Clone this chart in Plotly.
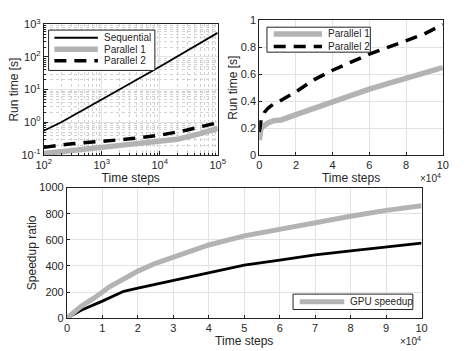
import plotly.graph_objects as go

# ---- data ----
log_steps = [100, 200, 1000, 10000, 100000]
seq_time = [0.55, 1.0, 5.0, 50.0, 550.0]

p1_log_steps = [100, 300, 1000, 3000, 10000, 20000, 50000, 100000]
p1_log_time = [0.11, 0.14, 0.17, 0.21, 0.27, 0.30, 0.45, 0.65]
p2_log_steps = [100, 200, 300, 1000, 3000, 10000, 30000, 100000]
p2_log_time = [0.17, 0.20, 0.22, 0.26, 0.31, 0.40, 0.58, 0.97]

lin_steps1 = [0, 500, 1000, 3000, 5000, 8000, 12000, 20000, 40000, 60000, 70000, 80000, 100000]
p1_lin_time = [0.11, 0.18, 0.20, 0.22, 0.24, 0.255, 0.26, 0.30, 0.40, 0.49, 0.53, 0.57, 0.65]
lin_steps2 = [0, 500, 1000, 3000, 5000, 8000, 10000, 15000, 20000, 30000, 40000, 50000, 60000, 70000, 80000, 90000, 100000]
p2_lin_time = [0.17, 0.22, 0.26, 0.32, 0.35, 0.38, 0.39, 0.43, 0.47, 0.56, 0.63, 0.69, 0.75, 0.80, 0.85, 0.90, 0.97]

sp_steps_gpu = [0, 4000, 8000, 12000, 16000, 20000, 25000, 30000, 35000, 40000, 50000, 60000, 70000, 80000, 90000, 100000]
sp_gpu = [0, 90, 160, 240, 300, 360, 420, 470, 520, 560, 630, 680, 735, 780, 825, 860]
sp_steps_blk = [0, 4000, 10000, 16000, 20000, 30000, 40000, 50000, 60000, 70000, 80000, 90000, 100000]
sp_blk = [0, 60, 130, 205, 230, 290, 350, 405, 445, 485, 515, 545, 575]

log_x_major = [100, 1000, 10000, 100000]
log_x_labels = ["10<sup>2</sup>", "10<sup>3</sup>", "10<sup>4</sup>", "10<sup>5</sup>"]
log_y_major = [0.1, 1, 10, 100, 1000]
log_y_labels = ["10<sup>-1</sup>", "10<sup>0</sup>", "10<sup>1</sup>", "10<sup>2</sup>", "10<sup>3</sup>"]

lin_x_ticks = [0, 20000, 40000, 60000, 80000, 100000]
lin_x_labels = ["0", "2", "4", "6", "8", "10"]
lin_y_ticks = [0, 0.2, 0.4, 0.6, 0.8, 1]
lin_y_labels = ["0", "0.2", "0.4", "0.6", "0.8", "1"]
sp_x_ticks = [i * 10000 for i in range(11)]
sp_x_labels = [str(i) for i in range(11)]
sp_y_ticks = [0, 200, 400, 600, 800, 1000]

legend1_names = ["Sequential", "Parallel 1", "Parallel 2"]
legend2_names = ["Parallel 1", "Parallel 2"]
legend3_names = ["GPU speedup"]


def minor_positions(majors):
    out = []
    for m in majors[:-1]:
        out += [m * k for k in range(2, 10)]
    return out


GRAY = "#b3b3b3"
TXT = "#262626"
FONT = "Liberation Sans, Arial, sans-serif"
DASH = "12px,8px"

STYLE_SEQ = dict(color="black", width=1.8)
STYLE_P1 = dict(color=GRAY, width=5.5)
STYLE_P2 = dict(color="black", width=3.5, dash=DASH)

fig = go.Figure()

# top-left (log-log)
fig.add_trace(go.Scatter(x=log_steps, y=seq_time, mode="lines", name=legend1_names[0],
                         line=STYLE_SEQ, xaxis="x", yaxis="y"))
fig.add_trace(go.Scatter(x=p1_log_steps, y=p1_log_time, mode="lines", name=legend1_names[1],
                         line=STYLE_P1, xaxis="x", yaxis="y"))
fig.add_trace(go.Scatter(x=p2_log_steps, y=p2_log_time, mode="lines", name=legend1_names[2],
                         line=STYLE_P2, xaxis="x", yaxis="y"))

# top-right (linear)
fig.add_trace(go.Scatter(x=lin_steps1, y=p1_lin_time, mode="lines", name=legend2_names[0],
                         line=STYLE_P1, xaxis="x2", yaxis="y2"))
fig.add_trace(go.Scatter(x=lin_steps2, y=p2_lin_time, mode="lines", name=legend2_names[1],
                         line=STYLE_P2, xaxis="x2", yaxis="y2"))

# bottom (speedup)
fig.add_trace(go.Scatter(x=sp_steps_blk, y=sp_blk, mode="lines", name="speedup",
                         line=dict(color="black", width=2.8), xaxis="x3", yaxis="y3"))
fig.add_trace(go.Scatter(x=sp_steps_gpu, y=sp_gpu, mode="lines", name=legend3_names[0],
                         line=dict(color=GRAY, width=5), xaxis="x3", yaxis="y3"))

W, H = 474, 351
def px_x(p): return p / W
def px_y(p): return 1 - p / H

axis_common = dict(showline=True, linecolor="#222222", linewidth=1, mirror=True,
                   ticks="inside", ticklen=3, tickcolor="#222222",
                   showgrid=True, gridcolor="#e3e3e3", gridwidth=1, zeroline=False,
                   tickfont=dict(size=11, color=TXT), title_font=dict(size=12, color=TXT),
                   title_standoff=0)

TL_X = [px_x(37), px_x(217)]
TL_Y = [px_y(153), px_y(17)]

x_all = sorted(log_x_major + minor_positions(log_x_major))
y_all = sorted(log_y_major + minor_positions(log_y_major))

fig.update_layout(
    width=W, height=H, margin=dict(l=0, r=0, t=0, b=0),
    paper_bgcolor="white", plot_bgcolor="white", showlegend=False,
    font=dict(family=FONT, color=TXT),
    xaxis=dict(axis_common, type="log", domain=TL_X, anchor="y", range=[2, 5],
               tickvals=x_all, ticktext=[log_x_labels[log_x_major.index(v)] if v in log_x_major else "" for v in x_all],
               griddash="dot", gridcolor="#d2d2d2", ticklen=2,
               title=dict(text="Time steps")),
    yaxis=dict(axis_common, type="log", domain=TL_Y, anchor="x", range=[-1, 3],
               tickvals=y_all, ticktext=[log_y_labels[log_y_major.index(v)] if v in log_y_major else "" for v in y_all],
               griddash="dot", gridcolor="#d2d2d2", ticklen=2,
               title=dict(text="Run time [s]")),
    xaxis4=dict(type="log", domain=TL_X, anchor="y", overlaying="x", range=[2, 5],
                tickvals=log_x_major, showticklabels=False, ticks="inside", ticklen=4, tickcolor="#222222",
                showgrid=True, gridcolor="#e3e3e3", zeroline=False, showline=False),
    yaxis4=dict(type="log", domain=TL_Y, anchor="x", overlaying="y", range=[-1, 3],
                tickvals=log_y_major, showticklabels=False, ticks="inside", ticklen=4, tickcolor="#222222",
                showgrid=True, gridcolor="#e3e3e3", zeroline=False, showline=False),
    xaxis2=dict(axis_common, domain=[px_x(260), px_x(450)], anchor="y2",
                range=[0, 100000], tickvals=lin_x_ticks, ticktext=lin_x_labels,
                title=dict(text="Time steps")),
    yaxis2=dict(axis_common, domain=[px_y(153), px_y(13)], anchor="x2",
                range=[0, 1], tickvals=lin_y_ticks, ticktext=lin_y_labels,
                title=dict(text="Run time [s]")),
    xaxis3=dict(axis_common, domain=[px_x(61), px_x(428)], anchor="y3",
                range=[0, 100000], tickvals=sp_x_ticks, ticktext=sp_x_labels,
                title=dict(text="Time steps")),
    yaxis3=dict(axis_common, domain=[px_y(323), px_y(187)], anchor="x3",
                range=[0, 1000], tickvals=sp_y_ticks,
                title=dict(text="Speedup ratio")),
)

# empty trace so the overlay axes render
fig.add_trace(go.Scatter(x=[None], y=[None], xaxis="x4", yaxis="y4", showlegend=False, hoverinfo="skip"))

# ---- manual legends (pixel layout) ----
def add_legend(box, rows, names, styles):
    x0, y0, x1, y1 = box
    fig.add_shape(type="rect", xref="paper", yref="paper",
                  x0=px_x(x0), x1=px_x(x1), y0=px_y(y1), y1=px_y(y0),
                  line=dict(color="#222222", width=1), fillcolor="white", layer="above")
    for (sx0, sx1, tx, ry), name, st in zip(rows, names, styles):
        fig.add_shape(type="line", xref="paper", yref="paper",
                      x0=px_x(sx0), x1=px_x(sx1), y0=px_y(ry), y1=px_y(ry),
                      line=st, layer="above")
        fig.add_annotation(x=px_x(tx), y=px_y(ry), xref="paper", yref="paper",
                           xanchor="left", yanchor="middle", text=name, showarrow=False,
                           font=dict(size=10, color=TXT))

add_legend((42, 23, 152, 65),
           [(48, 93, 97, 31), (48, 93, 97, 43), (48, 93, 97, 55)],
           legend1_names, [STYLE_SEQ, STYLE_P1, STYLE_P2])
add_legend((268, 20, 375, 46),
           [(275, 325, 329, 27), (275, 325, 329, 40)],
           legend2_names, [STYLE_P1, STYLE_P2])
add_legend((295, 298, 419, 314),
           [(302, 348, 352, 306)],
           legend3_names, [dict(color=GRAY, width=5)])

fig.add_annotation(x=px_x(450), y=px_y(169), xref="paper", yref="paper", xanchor="right", yanchor="top",
                   text="×10<sup>4</sup>", showarrow=False, font=dict(size=10, color=TXT))
fig.add_annotation(x=px_x(429), y=px_y(338), xref="paper", yref="paper", xanchor="right", yanchor="top",
                   text="×10<sup>4</sup>", showarrow=False, font=dict(size=10, color=TXT))

fig.write_html("out.html")
